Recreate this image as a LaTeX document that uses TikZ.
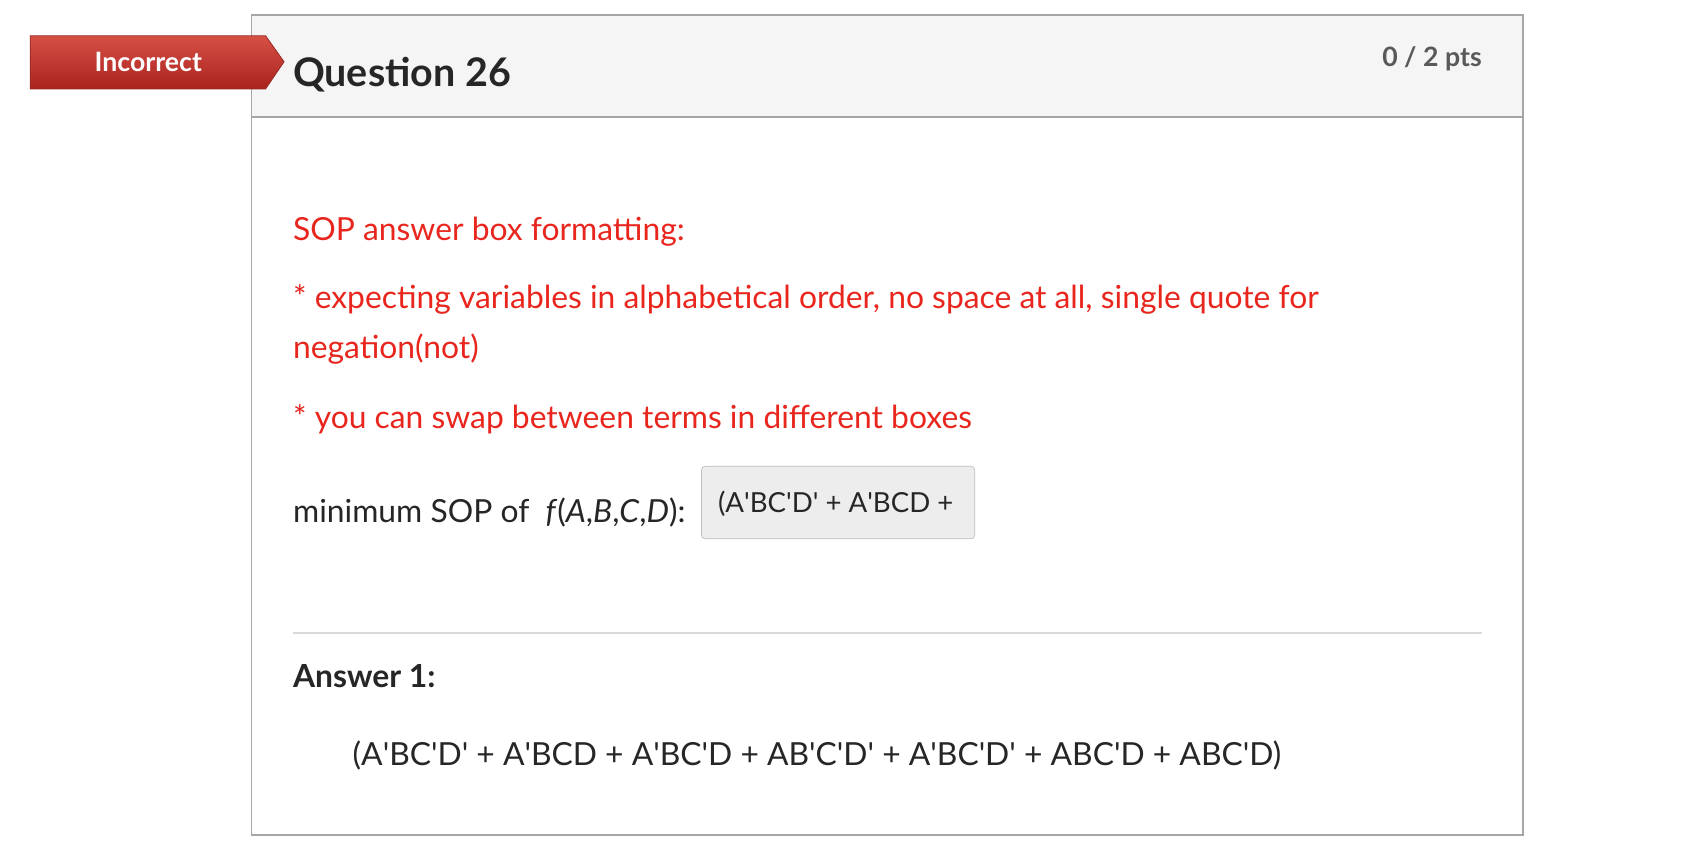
\documentclass[tikz,border=0pt]{standalone}
\usepackage{fontspec}
\setmainfont{Lato}
\definecolor{warn}{RGB}{232,38,30}
\newcommand{\qt}{\textquotesingle}
\begin{document}
\begin{tikzpicture}[x=0.02cm,y=-0.02cm,
  txt/.style={anchor=base west,inner sep=0pt,font=\fontsize{16.7}{20}\selectfont},
  dark/.style={text=black!85}]
\useasboundingbox (0,0) rectangle (1568,784);
\fill[white] (0,0) rectangle (1568,784);
\draw[fill=black!4,draw=black!35,line width=1pt] (232,14) rectangle (1405,108);
\draw[draw=black!35,line width=1pt] (232,108) -- (232,770) -- (1405,770) -- (1405,108);
\draw[top color={rgb,255:red,214;green,80;blue,70},bottom color={rgb,255:red,170;green,35;blue,30},draw={rgb,255:red,150;green,40;blue,35}] (28,33) -- (245,33) -- (262,57) -- (245,82) -- (28,82) -- cycle;
\node[anchor=base west,inner sep=0pt,text=white,font=\fontsize{14}{16}\selectfont\bfseries] (inc) at (87,66) {Incorrect};
\node[anchor=base west,inner sep=0pt,dark,font=\fontsize{20.7}{24}\selectfont\bfseries] (q) at (270,80) {Question 26};
\node[anchor=base east,inner sep=0pt,text=black!65,font=\fontsize{14}{16}\selectfont\bfseries] (pts) at (1367,61) {0 / 2 pts};
\node[txt,text=warn] (l1) at (270,222) {SOP answer box formatting:};
\node[txt,text=warn] (l2) at (270,285) {* expecting variables in alphabetical order, no space at all, single quote for};
\node[txt,text=warn] (l3) at (270,331) {negation(not)};
\node[txt,text=warn] (l4) at (270,395) {* you can swap between terms in different boxes};
\node[txt,dark] (l5) at (270,482) {minimum SOP of \ \textit{f}(\textit{A},\textit{B},\textit{C},\textit{D}):};
\draw[fill=black!7,draw=black!25,rounded corners=2pt] (647,430) rectangle (899,497);
\node[anchor=base west,inner sep=0pt,dark,font=\fontsize{14.5}{16}\selectfont] (box) at (662,473) {(A\qt BC\qt D\qt{} + A\qt BCD +};
\draw[black!15,line width=1pt] (270,584) -- (1367,584);
\node[txt,dark,font=\fontsize{16.7}{20}\selectfont\bfseries] (a1) at (270,634) {Answer 1:};
\node[txt,dark] (ans) at (325,706) {(A\qt BC\qt D\qt{} + A\qt BCD + A\qt BC\qt D + AB\qt C\qt D\qt{} + A\qt BC\qt D\qt{} + ABC\qt D + ABC\qt D)};
\end{tikzpicture}
\end{document}
